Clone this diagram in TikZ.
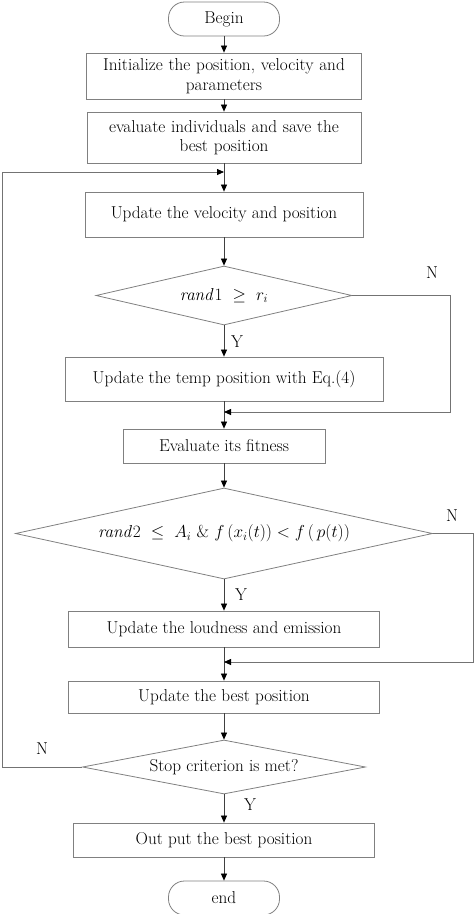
\documentclass[tikz,border=0pt]{standalone}
\usetikzlibrary{shapes.geometric,arrows.meta}
\begin{document}
\begin{tikzpicture}[x=1pt,y=-1pt,
    font=\fontsize{17.2}{19.5}\selectfont,
    every node/.style={inner sep=0pt},
    boxline/.style={draw=black!50,line width=0.8pt},
    procbox/.style={boxline,rectangle,align=center},
    termbox/.style={boxline,rectangle,rounded corners=16pt,minimum width=111pt,minimum height=34pt},
    testbox/.style={boxline,diamond},
    flow/.style={draw=black!75,line width=0.7pt,-{Triangle[length=7pt,width=6pt,color=black]}},
    back/.style={draw=black!55,line width=0.8pt,-{Triangle[length=7pt,width=6pt,color=black]}}]
  \useasboundingbox (0,0) rectangle (474,914);
  \begin{scope}
    \node[termbox] (begin) at (224,19) {Begin};
    \node[procbox,minimum width=275pt,minimum height=46pt,text width=270pt] (init) at (224,76)
      {Initialize the position, velocity and\\parameters};
    \node[procbox,minimum width=274pt,minimum height=51pt,text width=270pt] (evalind) at (224,137.5)
      {evaluate individuals and save the\\best position};
    \node[procbox,minimum width=278pt,minimum height=45pt] (upvel) at (224,214.5)
      {Update the velocity and position};
    \node[testbox,aspect=4.34,minimum width=256pt,minimum height=59pt] (test1) at (224,295.5)
      {$\mathit{rand}1\ \geq\ r_i$};
    \node[procbox,minimum width=318pt,minimum height=44pt] (temp) at (224,379)
      {Update the temp position with Eq.(4)};
    \node[procbox,minimum width=202pt,minimum height=34pt] (fit) at (224,446)
      {Evaluate its fitness};
    \node[testbox,aspect=4.58,minimum width=417pt,minimum height=91pt] (test2) at (224,533.5)
      {$\mathit{rand}2\ \leq\ A_i\ \&\ f\,(x_i(t))<f\,(\,p(t))$};
    \node[procbox,minimum width=311pt,minimum height=36pt] (loud) at (224,629)
      {Update the loudness and emission};
    \node[procbox,minimum width=311pt,minimum height=32pt] (best) at (224,697)
      {Update the best position};
    \node[testbox,aspect=5.24,minimum width=283pt,minimum height=54pt] (test3) at (224,767)
      {Stop criterion is met?};
    \node[procbox,minimum width=301pt,minimum height=34pt] (out) at (224,840)
      {Out put the best position};
    \node[termbox] (end) at (224,898) {end};

    \coordinate (join1) at (224,172);
    \coordinate (join2) at (224,412);
    \coordinate (join3) at (224,662);

    \node (n1) at (432,273) {N};
    \node (y1) at (237,342) {Y};
    \node (n2) at (452,516) {N};
    \node (y2) at (241,595) {Y};
    \node (n3) at (42,749) {N};
    \node (y3) at (250,805) {Y};

    \draw[flow] (begin) -- (init);
    \draw[flow] (init) -- (evalind);
    \draw[flow] (evalind) -- (upvel);
    \draw[flow] (upvel) -- (test1);
    \draw[flow] (test1) -- (temp);
    \draw[flow] (temp) -- (fit);
    \draw[flow] (fit) -- (test2);
    \draw[flow] (test2) -- (loud);
    \draw[flow] (loud) -- (best);
    \draw[flow] (best) -- (test3);
    \draw[flow] (test3) -- (out);
    \draw[flow] (out) -- (end);

    \draw[back] (test1.east) -- (450,295.5) |- (join2);
    \draw[back] (test2.east) -- (473,533.5) |- (join3);
    \draw[back] (test3.west) -- (2,767) |- (join1);
  \end{scope}
\end{tikzpicture}
\end{document}
